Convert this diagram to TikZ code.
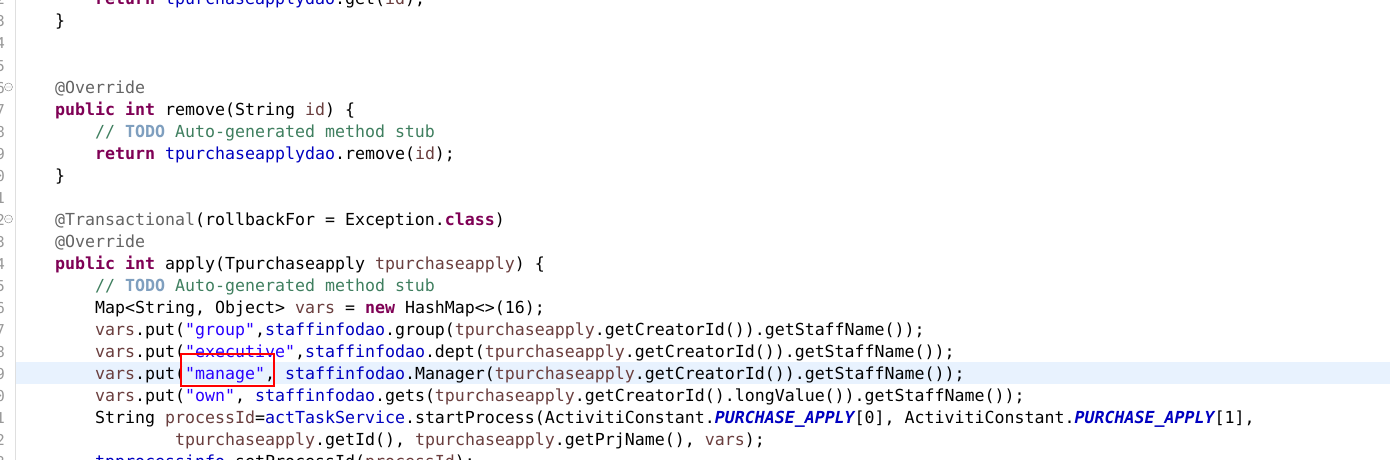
\documentclass[tikz,border=0pt]{standalone}
\usepackage{fontspec}
\newfontfamily\codefont{DejaVu Sans Mono}
\usetikzlibrary{positioning}
\definecolor{kwcol}{HTML}{7F0055}
\definecolor{fldcol}{HTML}{0000C0}
\definecolor{strcol}{HTML}{2A00FF}
\definecolor{cmtcol}{HTML}{3F7F5F}
\definecolor{todocol}{HTML}{7F9FBF}
\definecolor{anncol}{HTML}{646464}
\definecolor{varcol}{HTML}{6A3E3E}
\definecolor{hlcol}{HTML}{E8F2FE}
\newcommand\kw[1]{\textcolor{kwcol}{\bfseries #1}}
\newcommand\fld[1]{\textcolor{fldcol}{#1}}
\newcommand\str[1]{\textcolor{strcol}{#1}}
\newcommand\cmt[1]{\textcolor{cmtcol}{#1}}
\newcommand\todo[1]{\textcolor{todocol}{\bfseries #1}}
\newcommand\ann[1]{\textcolor{anncol}{#1}}
\newcommand\lvar[1]{\textcolor{varcol}{#1}}
\newcommand\cst[1]{\textcolor{fldcol}{\bfseries\itshape #1}}
\begin{document}
\begin{tikzpicture}[x=1pt,y=-1pt,
    code/.style={anchor=base west,inner sep=0pt,font=\codefont\fontsize{16.6}{20}\selectfont},
    lnum/.style={anchor=base east,inner sep=0pt,text=gray!80,font=\codefont\fontsize{15}{18}\selectfont}]
  \useasboundingbox (0,0) rectangle (1390,460);
  \clip (0,0) rectangle (1390,460);
  \fill[white] (0,0) rectangle (1390,460);
  % current line
  \fill[hlcol] (15,362) rectangle (1390,384);
  \draw[gray!25] (15,0) -- (15,460);
  % line numbers
  \foreach \d [count=\i from 0] in {2,3,4,5,6,7,8,9,0,1,2,3,4,5,6,7,8,9,0,1,2,3}
    \node[lnum] (n\i) at (5,{5+22*\i}) {\d};
  \foreach \i in {4,10}
    \draw[gray] ({8.5},{22*\i-1}) circle (4) ({6},{22*\i-1}) -- ({11},{22*\i-1});
  % code
  \node[code] (l0) at (95,5) {\kw{return} \fld{tpurchaseapplydao}.get(\lvar{id});};
  \node[code] (l1) at (55,27) {\}};
  \node[code] (l4) at (55,93) {\ann{@Override}};
  \node[code] (l5) at (55,115) {\kw{public} \kw{int} remove(String \lvar{id}) \{};
  \node[code] (l6) at (95,137) {\cmt{//} \todo{TODO} \cmt{Auto-generated method stub}};
  \node[code] (l7) at (95,159) {\kw{return} \fld{tpurchaseapplydao}.remove(\lvar{id});};
  \node[code] (l8) at (55,181) {\}};
  \node[code] (l10) at (55,225) {\ann{@Transactional}(rollbackFor = Exception.\kw{class})};
  \node[code] (l11) at (55,247) {\ann{@Override}};
  \node[code] (l12) at (55,269) {\kw{public} \kw{int} apply(Tpurchaseapply \lvar{tpurchaseapply}) \{};
  \node[code] (l13) at (95,291) {\cmt{//} \todo{TODO} \cmt{Auto-generated method stub}};
  \node[code] (l14) at (95,313) {Map<String, Object> \lvar{vars} = \kw{new} HashMap<>(16);};
  \node[code] (l15) at (95,335) {\lvar{vars}.put(\str{"group"},\fld{staffinfodao}.group(\lvar{tpurchaseapply}.getCreatorId()).getStaffName());};
  \node[code] (l16) at (95,357) {\lvar{vars}.put(\str{"executive"},\fld{staffinfodao}.dept(\lvar{tpurchaseapply}.getCreatorId()).getStaffName());};
  \node[code] (l17) at (95,379) {\lvar{vars}.put(\str{"manage"}, \fld{staffinfodao}.Manager(\lvar{tpurchaseapply}.getCreatorId()).getStaffName());};
  \node[code] (l18) at (95,401) {\lvar{vars}.put(\str{"own"}, \fld{staffinfodao}.gets(\lvar{tpurchaseapply}.getCreatorId().longValue()).getStaffName());};
  \node[code] (l19) at (95,423) {String \lvar{processId}=\fld{actTaskService}.startProcess(ActivitiConstant.\cst{PURCHASE\_APPLY}[0], ActivitiConstant.\cst{PURCHASE\_APPLY}[1],};
  \node[code] (l20) at (175,445) {\lvar{tpurchaseapply}.getId(), \lvar{tpurchaseapply}.getPrjName(), \lvar{vars});};
  \node[code] (l21) at (95,467) {\fld{tpprocessinfo}.setProcessId(\lvar{processId});};
  % marker
  \draw[red,line width=2pt] (181,354) rectangle (274,386);
\end{tikzpicture}
\end{document}
